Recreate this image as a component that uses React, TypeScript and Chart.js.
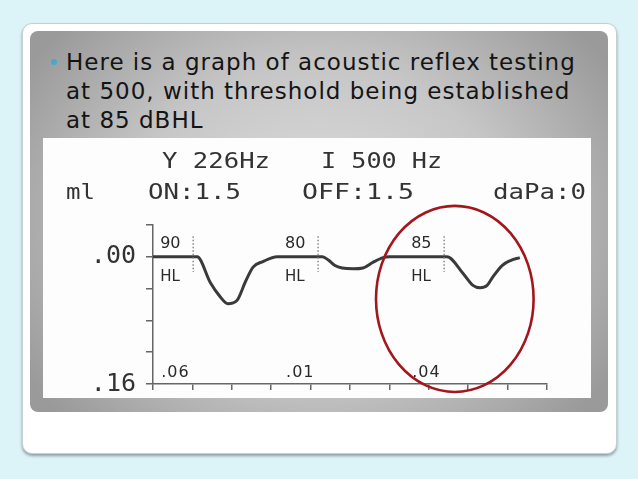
import React, { useEffect, useRef } from 'react';
import { Chart, registerables } from 'chart.js';

Chart.register(...registerables);

// ---- data ----
const traceX = [0, 1.12, 1.45, 1.7, 1.9, 2.13, 2.34, 2.54, 2.79, 3.15, 4.3, 4.45, 4.62, 4.8, 5.08, 5.33, 5.58, 5.84, 6.0, 7.46, 7.87, 8.12, 8.3, 8.48, 8.63, 8.86, 9.06, 9.31];
const traceY = [0, 0, 0.032, 0.05, 0.059, 0.055, 0.032, 0.013, 0.006, 0, 0, 0.004, 0.011, 0.014, 0.015, 0.014, 0.007, 0.001, 0, 0, 0.021, 0.036, 0.039, 0.036, 0.025, 0.011, 0.005, 0.001];

const markerX = [1.02, 4.19, 7.39];
const markerLevels = ['90', '80', '85'];
const markerUnits = ['HL', 'HL', 'HL'];
const markerAmps = ['.06', '.01', '.04'];

const yGridValues = [-0.04, 0, 0.04, 0.08, 0.12, 0.16];
const yTickValues = [0, 0.16];
const yTickTexts = ['.00', '.16'];
const xGridValues = [0, 1, 2, 3, 4, 5, 6, 7, 8, 9, 10];

const headerRow1 = ['Y 226Hz', 'I 500 Hz'];
const headerRow2 = ['ml', 'ON:1.5', 'OFF:1.5', 'daPa:0'];

const circleCenter = { x: 7.66, y: 0.053 };
const circleRadius = { x: 2.0, y: 0.117 };

const titleLines = [
  'Here is a graph of acoustic reflex testing',
  'at 500, with threshold being established',
  'at 85 dBHL',
];

// ---- layout (canvas coords) ----
const row1Pos = [{ x: 119, w: 108 }, { x: 278, w: 121 }];
const row2Pos = [{ x: 23, w: 29 }, { x: 105, w: 93 }, { x: 259, w: 112 }, { x: 450, w: 93 }];
const row1Base = 30;
const row2Base = 61;

const yLabelFor = (v: number) => {
  const idx = yTickValues.findIndex((t) => Math.abs(t - Number(v)) < 1e-6);
  return idx >= 0 ? yTickTexts[idx] : '';
};

const overlayPlugin = {
  id: 'overlay',
  afterDatasetsDraw(chart: any) {
    const { ctx, scales } = chart;
    const xs = scales.x;
    const ys = scales.y;
    ctx.save();
    // header text
    ctx.fillStyle = '#333';
    ctx.font = '21px "DejaVu Sans Mono"';
    ctx.textBaseline = 'alphabetic';
    ctx.textAlign = 'left';
    const drawFit = (t: string, x: number, base: number, w: number) => {
      const m = ctx.measureText(t).width;
      ctx.save();
      ctx.translate(x, base);
      ctx.scale(w / m, 1);
      ctx.fillText(t, 0, 0);
      ctx.restore();
    };
    headerRow1.forEach((t, i) => drawFit(t, row1Pos[i].x, row1Base, row1Pos[i].w));
    headerRow2.forEach((t, i) => drawFit(t, row2Pos[i].x, row2Base, row2Pos[i].w));

    // markers
    markerX.forEach((mx, i) => {
      const px = xs.getPixelForValue(mx);
      ctx.strokeStyle = '#8a8a8a';
      ctx.lineWidth = 1.5;
      ctx.setLineDash([1.5, 2]);
      ctx.beginPath();
      ctx.moveTo(px, ys.getPixelForValue(-0.026));
      ctx.lineTo(px, ys.getPixelForValue(0.019));
      ctx.stroke();
      ctx.setLineDash([]);
      ctx.fillStyle = '#2a2a2a';
      ctx.font = '16px "DejaVu Sans"';
      ctx.fillText(markerLevels[i], px - 33, ys.getPixelForValue(-0.011));
      ctx.font = '15px "DejaVu Sans"';
      ctx.fillText(markerUnits[i], px - 33, ys.getPixelForValue(0.030));
      ctx.font = '16px "DejaVu Sans"';
      ctx.letterSpacing = '1px';
      ctx.fillText(markerAmps[i], px - 32, ys.getPixelForValue(0.151));
      ctx.letterSpacing = '0px';
    });

    // red circle
    const cx = xs.getPixelForValue(circleCenter.x);
    const cy = ys.getPixelForValue(circleCenter.y);
    const rx = Math.abs(xs.getPixelForValue(circleCenter.x + circleRadius.x) - cx);
    const ry = Math.abs(ys.getPixelForValue(circleCenter.y + circleRadius.y) - cy);
    ctx.strokeStyle = '#a3161c';
    ctx.lineWidth = 2.6;
    ctx.beginPath();
    ctx.ellipse(cx, cy, rx, ry, 0, 0, Math.PI * 2);
    ctx.stroke();
    ctx.restore();
  },
};

function ReflexChart() {
  const ref = useRef<HTMLCanvasElement>(null);
  useEffect(() => {
    if (!ref.current) return;
    const chart = new Chart(ref.current, {
      type: 'line',
      data: {
        datasets: [
          {
            data: traceX.map((x, i) => ({ x, y: traceY[i] })),
            borderColor: '#3a3a3a',
            borderWidth: 3,
            pointRadius: 0,
            cubicInterpolationMode: 'monotone',
            fill: false,
          },
        ],
      },
      options: {
        animation: false,
        responsive: false,
        devicePixelRatio: 1,
        layout: { padding: { left: 0, top: 87, right: 44, bottom: 6 } },
        plugins: { legend: { display: false }, tooltip: { enabled: false } },
        scales: {
          x: {
            type: 'linear',
            min: 0,
            max: 10,
            afterBuildTicks: (s: any) => { s.ticks = xGridValues.map((v) => ({ value: v })); },
            afterFit: (s: any) => {
              s.height = 8; s.paddingLeft = 0; s.paddingRight = 0;
              s.ticks = xGridValues.map((v) => ({ value: v, label: '' }));
              s._labelSizes = null;
            },
            ticks: { callback: () => '', padding: 0, autoSkip: false },
            grid: { drawOnChartArea: false, drawTicks: true, tickLength: 6, color: '#666', lineWidth: 1.5 },
            border: { display: true, color: '#666', width: 1.5 },
          },
          y: {
            type: 'linear',
            reverse: true,
            min: -0.04,
            max: 0.16,
            afterBuildTicks: (s: any) => { s.ticks = yGridValues.map((v) => ({ value: v })); },
            afterFit: (s: any) => {
              s.width = 110; s.paddingTop = 0; s.paddingBottom = 0;
              s.ticks = yGridValues.map((v) => ({ value: v, label: yLabelFor(v) }));
              s._labelSizes = null;
            },
            ticks: {
              padding: 10,
              autoSkip: false,
              color: '#333',
              font: { family: 'DejaVu Sans Mono', size: 25 },
              callback: (v: any) => yLabelFor(Number(v)),
            },
            grid: { drawOnChartArea: false, drawTicks: true, tickLength: 7, color: '#666', lineWidth: 1.5 },
            border: { display: true, color: '#666', width: 1.5 },
          },
        },
      },
      plugins: [overlayPlugin],
    } as any);
    return () => chart.destroy();
  }, []);
  return <canvas ref={ref} width={548} height={260} style={{ width: 548, height: 260, display: 'block' }} />;
}

export default function App() {
  return (
    <div style={{ position: 'fixed', left: 0, top: 0, width: 638, height: 479, background: '#dcf3f8', overflow: 'hidden' }}>
      <div
        style={{
          position: 'absolute', left: 22, top: 23, width: 595, height: 431,
          background: '#fff', borderRadius: 10, border: '1px solid #c5cfd2',
          boxShadow: '0 2px 3px rgba(0,0,0,0.35)', boxSizing: 'border-box',
        }}
      />
      <div
        style={{
          position: 'absolute', left: 30, top: 31, width: 578, height: 381, borderRadius: 8,
          background: 'radial-gradient(ellipse 60% 75% at 50% 50%, #dedede 0%, #c6c6c6 55%, #9a9a9a 100%)',
        }}
      />
      <div style={{ position: 'absolute', left: 51, top: 59, width: 6, height: 6, borderRadius: 3, background: '#45aacb' }} />
      <div
        style={{
          position: 'absolute', left: 66, top: 48, fontFamily: '"DejaVu Sans"', fontSize: 23,
          lineHeight: '29px', letterSpacing: 1, color: '#141414', whiteSpace: 'nowrap',
        }}
      >
        {titleLines.map((l, i) => (<div key={i}>{l}</div>))}
      </div>
      <div style={{ position: 'absolute', left: 43, top: 138, width: 548, height: 260, background: '#fdfdfd' }}>
        <ReflexChart />
      </div>
    </div>
  );
}
